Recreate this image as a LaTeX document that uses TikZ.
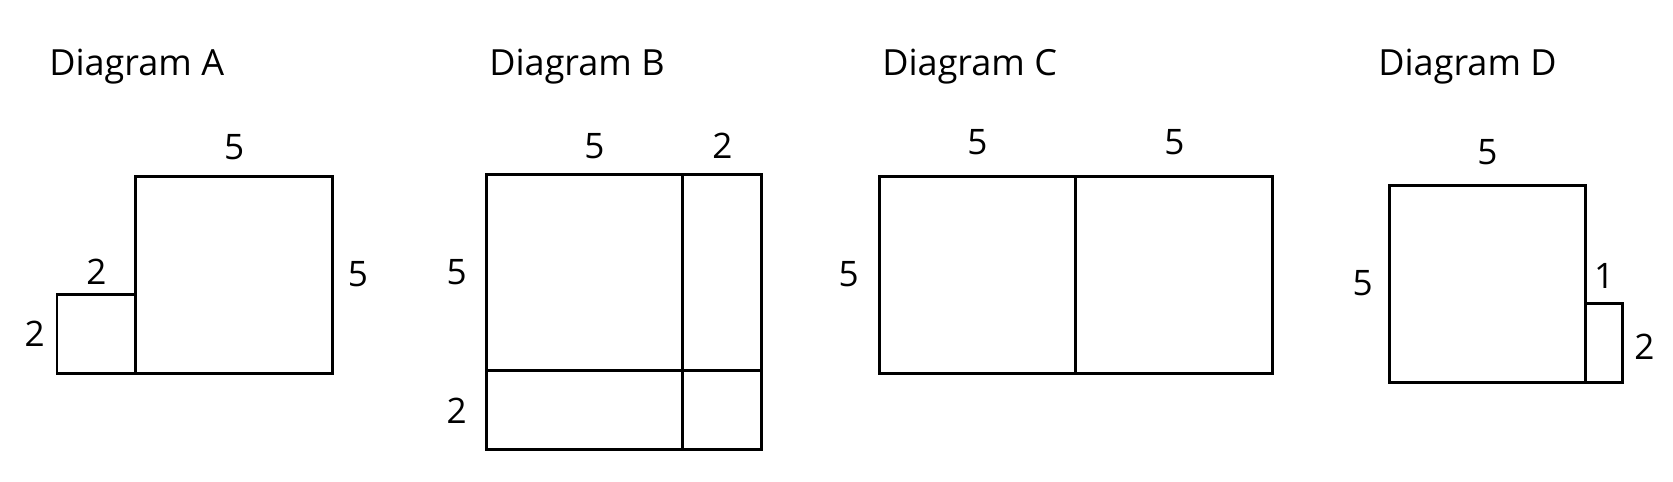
\documentclass[tikz,border=0pt]{standalone}
\usepackage{fontspec}
\setmainfont{Open Sans}
\usetikzlibrary{positioning}
\newcommand{\Unit}{0.788cm}
\tikzset{
    cell/.style 2 args={draw, line width=1.7pt, outer sep=0pt, inner sep=0pt,
      minimum width=#1*\Unit, minimum height=#2*\Unit},
    title/.style={anchor=base west, inner sep=0pt, font=\fontsize{20.5}{25}\selectfont},
}

\begin{document}
\begin{tikzpicture}[x=0.02cm, y=-0.02cm]
    \tikzset{
      every label/.append style={font=\fontsize{20}{24}\selectfont}
    }
    \useasboundingbox (0,0) rectangle (1673,481);

    % Diagram A
    \node[title] (tA) at (49,75) {Diagram A};
    \node[cell={2}{2}, anchor=south west,
      label={[label distance=0.12cm]left:2}, label={[label distance=0.08cm]above:2}] (a0) at (57,373) {};
    \node[cell={5}{5}, anchor=south west,
      label={[label distance=0.2cm]above:5}, label={[label distance=0.18cm]right:5}] (a1) at (a0.south east) {};

    % Diagram B
    \node[title] (tB) at (489,75) {Diagram B};
    \node[cell={5}{5}, anchor=north west,
      label={[label distance=0.18cm, xshift=0.2cm]above:5}, label={[label distance=0.26cm]left:5}] (b0) at (486,174) {};
    \node[cell={2}{5}, anchor=north west, label={[label distance=0.18cm]above:2}] (b1) at (b0.north east) {};
    \node[cell={5}{2}, anchor=north west, label={[label distance=0.26cm]left:2}] (b2) at (b0.south west) {};
    \node[cell={2}{2}, anchor=north west] (b3) at (b0.south east) {};

    % Diagram C
    \node[title] (tC) at (882,75) {Diagram C};
    \node[cell={5}{5}, anchor=south west,
      label={[label distance=0.31cm]above:5}, label={[label distance=0.28cm]left:5}] (c0) at (879,373) {};
    \node[cell={5}{5}, right=0pt of c0, label={[label distance=0.31cm]above:5}] (c1) {};

    % Diagram D
    \node[title] (tD) at (1378,75) {Diagram D};
    \node[cell={5}{5}, anchor=south west,
      label={[label distance=0.28cm]above:5}, label={[label distance=0.2cm]left:5}] (d0) at (1389,382) {};
    \node[cell={0.92}{2}, anchor=south west,
      label={[label distance=0.18cm]above:1}, label={[label distance=0.12cm, yshift=-0.09cm]right:2}] (d1) at (d0.south east) {};
  \end{tikzpicture}
\end{document}
